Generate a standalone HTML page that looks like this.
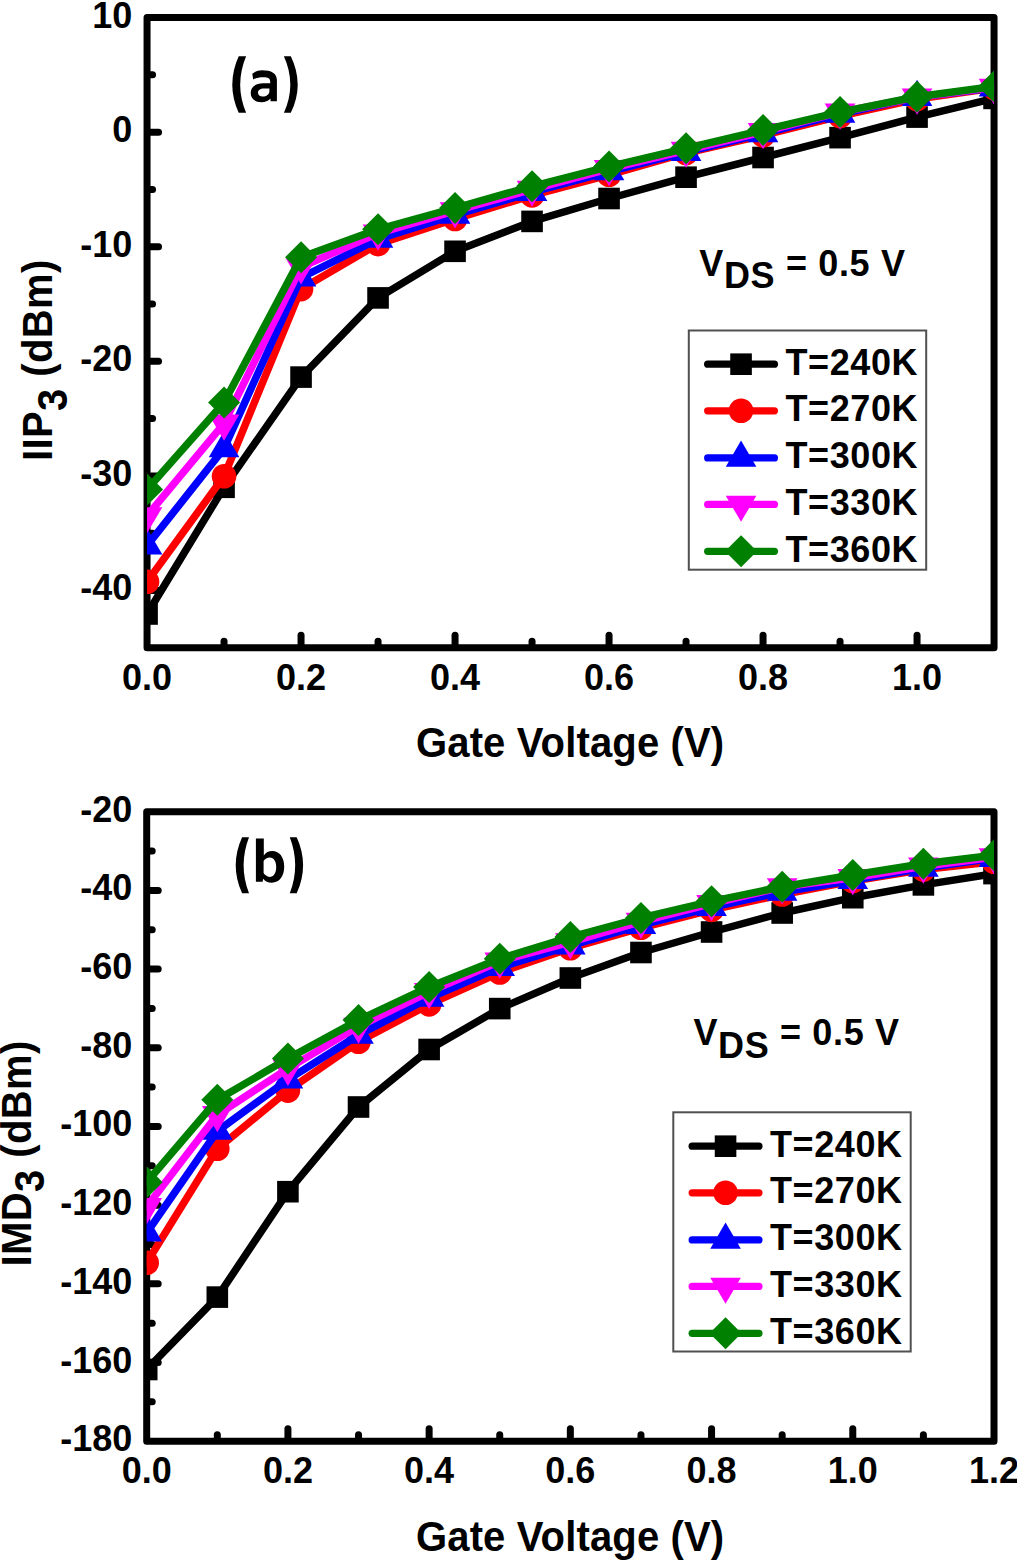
<!DOCTYPE html>
<html><head><meta charset="utf-8"><title>IIP3 and IMD3 vs Gate Voltage</title>
<style>
html,body{margin:0;padding:0;background:#fff;}
body{width:1017px;height:1561px;overflow:hidden;font-family:"Liberation Sans",sans-serif;}
svg{display:block;}
</style></head><body>
<svg width="1017" height="1561" viewBox="0 0 1017 1561">
<defs><clipPath id="ca"><rect x="147.05" y="17.55" width="847" height="630.2"/></clipPath>
<clipPath id="cb"><rect x="146.7" y="811.7" width="847.3" height="629.5"/></clipPath></defs>
<rect width="1017" height="1561" fill="#fff"/>
<rect x="147.05" y="17.55" width="847" height="630.2" fill="none" stroke="#000" stroke-width="7" stroke-linejoin="round"/>
<g stroke="#000" stroke-width="7" stroke-linecap="round">
<line x1="150.55" y1="132.13" x2="158.55" y2="132.13"/>
<line x1="150.55" y1="246.71" x2="158.55" y2="246.71"/>
<line x1="150.55" y1="361.3" x2="158.55" y2="361.3"/>
<line x1="150.55" y1="475.88" x2="158.55" y2="475.88"/>
<line x1="150.55" y1="590.46" x2="158.55" y2="590.46"/>
<line x1="150.55" y1="74.84" x2="152.55" y2="74.84"/>
<line x1="150.55" y1="189.42" x2="152.55" y2="189.42"/>
<line x1="150.55" y1="304" x2="152.55" y2="304"/>
<line x1="150.55" y1="418.59" x2="152.55" y2="418.59"/>
<line x1="150.55" y1="533.17" x2="152.55" y2="533.17"/>
<line x1="301.05" y1="644.25" x2="301.05" y2="635.25"/>
<line x1="455.05" y1="644.25" x2="455.05" y2="635.25"/>
<line x1="609.05" y1="644.25" x2="609.05" y2="635.25"/>
<line x1="763.05" y1="644.25" x2="763.05" y2="635.25"/>
<line x1="917.05" y1="644.25" x2="917.05" y2="635.25"/>
<line x1="224.05" y1="644.25" x2="224.05" y2="641.25"/>
<line x1="378.05" y1="644.25" x2="378.05" y2="641.25"/>
<line x1="532.05" y1="644.25" x2="532.05" y2="641.25"/>
<line x1="686.05" y1="644.25" x2="686.05" y2="641.25"/>
<line x1="840.05" y1="644.25" x2="840.05" y2="641.25"/>
</g>
<g font-family="Liberation Sans, sans-serif" font-weight="bold" font-size="36" fill="#000">
<text x="132.4" y="27.55" text-anchor="end">10</text>
<text x="132.4" y="142.13" text-anchor="end">0</text>
<text x="132.4" y="256.71" text-anchor="end">-10</text>
<text x="132.4" y="371.3" text-anchor="end">-20</text>
<text x="132.4" y="485.88" text-anchor="end">-30</text>
<text x="132.4" y="600.46" text-anchor="end">-40</text>
<text x="147.05" y="690" text-anchor="middle">0.0</text>
<text x="301.05" y="690" text-anchor="middle">0.2</text>
<text x="455.05" y="690" text-anchor="middle">0.4</text>
<text x="609.05" y="690" text-anchor="middle">0.6</text>
<text x="763.05" y="690" text-anchor="middle">0.8</text>
<text x="917.05" y="690" text-anchor="middle">1.0</text>
</g>
<rect x="146.7" y="811.7" width="847.3" height="629.5" fill="none" stroke="#000" stroke-width="7" stroke-linejoin="round"/>
<g stroke="#000" stroke-width="7" stroke-linecap="round">
<line x1="150.2" y1="890.39" x2="158.2" y2="890.39"/>
<line x1="150.2" y1="969.08" x2="158.2" y2="969.08"/>
<line x1="150.2" y1="1047.76" x2="158.2" y2="1047.76"/>
<line x1="150.2" y1="1126.45" x2="158.2" y2="1126.45"/>
<line x1="150.2" y1="1205.14" x2="158.2" y2="1205.14"/>
<line x1="150.2" y1="1283.83" x2="158.2" y2="1283.83"/>
<line x1="150.2" y1="1362.51" x2="158.2" y2="1362.51"/>
<line x1="150.2" y1="851.04" x2="152.2" y2="851.04"/>
<line x1="150.2" y1="929.73" x2="152.2" y2="929.73"/>
<line x1="150.2" y1="1008.42" x2="152.2" y2="1008.42"/>
<line x1="150.2" y1="1087.11" x2="152.2" y2="1087.11"/>
<line x1="150.2" y1="1165.79" x2="152.2" y2="1165.79"/>
<line x1="150.2" y1="1244.48" x2="152.2" y2="1244.48"/>
<line x1="150.2" y1="1323.17" x2="152.2" y2="1323.17"/>
<line x1="150.2" y1="1401.86" x2="152.2" y2="1401.86"/>
<line x1="287.92" y1="1437.7" x2="287.92" y2="1428.7"/>
<line x1="429.13" y1="1437.7" x2="429.13" y2="1428.7"/>
<line x1="570.35" y1="1437.7" x2="570.35" y2="1428.7"/>
<line x1="711.57" y1="1437.7" x2="711.57" y2="1428.7"/>
<line x1="852.78" y1="1437.7" x2="852.78" y2="1428.7"/>
<line x1="217.31" y1="1437.7" x2="217.31" y2="1434.7"/>
<line x1="358.52" y1="1437.7" x2="358.52" y2="1434.7"/>
<line x1="499.74" y1="1437.7" x2="499.74" y2="1434.7"/>
<line x1="640.96" y1="1437.7" x2="640.96" y2="1434.7"/>
<line x1="782.17" y1="1437.7" x2="782.17" y2="1434.7"/>
<line x1="923.39" y1="1437.7" x2="923.39" y2="1434.7"/>
</g>
<g font-family="Liberation Sans, sans-serif" font-weight="bold" font-size="36" fill="#000">
<text x="132.4" y="821.7" text-anchor="end">-20</text>
<text x="132.4" y="900.39" text-anchor="end">-40</text>
<text x="132.4" y="979.08" text-anchor="end">-60</text>
<text x="132.4" y="1057.76" text-anchor="end">-80</text>
<text x="132.4" y="1136.45" text-anchor="end">-100</text>
<text x="132.4" y="1215.14" text-anchor="end">-120</text>
<text x="132.4" y="1293.83" text-anchor="end">-140</text>
<text x="132.4" y="1372.51" text-anchor="end">-160</text>
<text x="132.4" y="1451.2" text-anchor="end">-180</text>
<text x="146.7" y="1483" text-anchor="middle">0.0</text>
<text x="287.92" y="1483" text-anchor="middle">0.2</text>
<text x="429.13" y="1483" text-anchor="middle">0.4</text>
<text x="570.35" y="1483" text-anchor="middle">0.6</text>
<text x="711.57" y="1483" text-anchor="middle">0.8</text>
<text x="852.78" y="1483" text-anchor="middle">1.0</text>
<text x="994" y="1483" text-anchor="middle">1.2</text>
</g>
<g font-family="Liberation Sans, sans-serif" font-weight="bold" font-size="40" fill="#000">
<text transform="translate(416,757) scale(1,1.05)" letter-spacing="0.15">Gate Voltage (V)</text>
<text transform="translate(416,1551) scale(1,1.05)" letter-spacing="0.15">Gate Voltage (V)</text>
<text transform="translate(51.6,461) rotate(-90) scale(1,1.05)" letter-spacing="0.4">IIP<tspan dy="14.8">3</tspan><tspan dy="-14.8"> (dBm)</tspan></text>
<text transform="translate(31.2,1266.5) rotate(-90) scale(1,1.05)" letter-spacing="0.4">IMD<tspan dy="12.4">3</tspan><tspan dy="-12.4"> (dBm)</tspan></text>
</g>
<g fill="#000" fill-rule="evenodd">
<path d="M238.7,56.2 Q225.9,84.5 238.7,112.8 L246.1,112.8 Q234.3,84.5 246.1,56.2 Z"/>
<path d="M283.9,56.2 L290.8,56.2 Q304.6,84.5 290.8,112.8 L283.9,112.8 Q296.7,84.5 283.9,56.2 Z"/>
<path d="M252.3,73.8 C255.5,71.3 258.5,70.3 262,70.3 C271.5,70.3 276.9,73.5 276.9,80 L276.9,101.2 L270.6,101.2 L270.4,98.4 C268.2,100.9 265.3,102.2 261.4,102.2 C255,102.2 250.7,98.5 250.7,93 C250.7,87 255.5,83.3 263,83.3 L270.2,83.3 L270.2,81.5 C270.2,78.5 268,77.2 263.5,77.2 C259.5,77.2 256,78 253.2,79.5 Z M269.4,88.4 L264,88.4 C260.2,88.4 258,90.2 258,92.6 C258,95 259.8,96.6 262.6,96.6 C266.5,96.6 269.4,94.3 269.4,91.5 Z"/>
<path d="M242.1,837.2 Q229.3,865.25 242.1,893.3 L249,893.3 Q238.2,865.25 249,837.2 Z"/>
<path d="M289.8,837.2 L296.7,837.2 Q309.5,865.25 296.7,893.3 L289.8,893.3 Q300.6,865.25 289.8,837.2 Z"/>
<path d="M255.9,838.5 L263.8,838.5 L263.8,855.5 C265.8,852.6 268.6,851.1 272.3,851.1 C279.5,851.1 284.2,857.5 284.2,866.8 C284.2,876.3 279.3,882.7 271.8,882.7 C268,882.7 265,881.3 263.2,878.8 L262.6,881.7 L255.9,881.7 Z M263.6,861 C265,858.8 267.2,857.6 269.8,857.6 C273.9,857.6 276.2,861.5 276.2,867.2 C276.2,872.9 273.6,876.9 269.6,876.9 C267,876.4 264.9,875.2 263.6,873 Z"/>
</g>
<text x="699.3" y="276" font-family="Liberation Sans, sans-serif" font-weight="bold" font-size="36" letter-spacing="0.65">V<tspan dy="12.3">DS</tspan><tspan dy="-12.3"> = 0.5 V</tspan></text>
<text x="693.4" y="1045" font-family="Liberation Sans, sans-serif" font-weight="bold" font-size="36" letter-spacing="0.65">V<tspan dy="12.8">DS</tspan><tspan dy="-12.8"> = 0.5 V</tspan></text>
<rect x="688.8" y="330.5" width="237.4" height="239.2" fill="#fff" stroke="#505050" stroke-width="2"/>
<line x1="707.7" y1="364.2" x2="774.4" y2="364.2" stroke="#000000" stroke-width="7.3" stroke-linecap="round"/>
<rect x="730.25" y="353.4" width="21.6" height="21.6" fill="#000000"/>
<text x="785.5" y="374.7" font-family="Liberation Sans, sans-serif" font-weight="bold" font-size="36" letter-spacing="0.6">T=240K</text>
<line x1="707.7" y1="410.8" x2="774.4" y2="410.8" stroke="#FF0000" stroke-width="7.3" stroke-linecap="round"/>
<circle cx="741.05" cy="410.8" r="12.3" fill="#FF0000"/>
<text x="785.5" y="421.3" font-family="Liberation Sans, sans-serif" font-weight="bold" font-size="36" letter-spacing="0.6">T=270K</text>
<line x1="707.7" y1="457.9" x2="774.4" y2="457.9" stroke="#0000FF" stroke-width="7.3" stroke-linecap="round"/>
<polygon points="741.05,440.43 756.35,466.63 725.75,466.63" fill="#0000FF"/>
<text x="785.5" y="468.4" font-family="Liberation Sans, sans-serif" font-weight="bold" font-size="36" letter-spacing="0.6">T=300K</text>
<line x1="707.7" y1="504.4" x2="774.4" y2="504.4" stroke="#FF00FF" stroke-width="7.3" stroke-linecap="round"/>
<polygon points="741.05,521.87 756.35,495.67 725.75,495.67" fill="#FF00FF"/>
<text x="785.5" y="514.9" font-family="Liberation Sans, sans-serif" font-weight="bold" font-size="36" letter-spacing="0.6">T=330K</text>
<line x1="707.7" y1="551.3" x2="774.4" y2="551.3" stroke="#008000" stroke-width="7.3" stroke-linecap="round"/>
<polygon points="741.05,535.3 757.05,551.3 741.05,567.3 725.05,551.3" fill="#008000"/>
<text x="785.5" y="561.8" font-family="Liberation Sans, sans-serif" font-weight="bold" font-size="36" letter-spacing="0.6">T=360K</text>
<rect x="673.3" y="1112.3" width="237.4" height="239.2" fill="#fff" stroke="#505050" stroke-width="2"/>
<line x1="692.2" y1="1146.2" x2="758.9" y2="1146.2" stroke="#000000" stroke-width="7.3" stroke-linecap="round"/>
<rect x="714.75" y="1135.4" width="21.6" height="21.6" fill="#000000"/>
<text x="770" y="1156.7" font-family="Liberation Sans, sans-serif" font-weight="bold" font-size="36" letter-spacing="0.6">T=240K</text>
<line x1="692.2" y1="1192.8" x2="758.9" y2="1192.8" stroke="#FF0000" stroke-width="7.3" stroke-linecap="round"/>
<circle cx="725.55" cy="1192.8" r="12.3" fill="#FF0000"/>
<text x="770" y="1203.3" font-family="Liberation Sans, sans-serif" font-weight="bold" font-size="36" letter-spacing="0.6">T=270K</text>
<line x1="692.2" y1="1239.9" x2="758.9" y2="1239.9" stroke="#0000FF" stroke-width="7.3" stroke-linecap="round"/>
<polygon points="725.55,1222.43 740.85,1248.63 710.25,1248.63" fill="#0000FF"/>
<text x="770" y="1250.4" font-family="Liberation Sans, sans-serif" font-weight="bold" font-size="36" letter-spacing="0.6">T=300K</text>
<line x1="692.2" y1="1286.4" x2="758.9" y2="1286.4" stroke="#FF00FF" stroke-width="7.3" stroke-linecap="round"/>
<polygon points="725.55,1303.87 740.85,1277.67 710.25,1277.67" fill="#FF00FF"/>
<text x="770" y="1296.9" font-family="Liberation Sans, sans-serif" font-weight="bold" font-size="36" letter-spacing="0.6">T=330K</text>
<line x1="692.2" y1="1333.3" x2="758.9" y2="1333.3" stroke="#008000" stroke-width="7.3" stroke-linecap="round"/>
<polygon points="725.55,1317.3 741.55,1333.3 725.55,1349.3 709.55,1333.3" fill="#008000"/>
<text x="770" y="1343.8" font-family="Liberation Sans, sans-serif" font-weight="bold" font-size="36" letter-spacing="0.6">T=360K</text>
<g clip-path="url(#ca)">
<polyline points="147.05,614 224.05,487.3 301.05,377.1 378.05,297.9 455.05,251.3 532.05,221.4 609.05,198.5 686.05,177.2 763.05,157.5 840.05,137.65 917.05,117.1 994.05,98.4" fill="none" stroke="#000000" stroke-width="7.5" stroke-linejoin="round" stroke-linecap="round"/>
<rect x="136.25" y="603.2" width="21.6" height="21.6" fill="#000000"/>
<rect x="213.25" y="476.5" width="21.6" height="21.6" fill="#000000"/>
<rect x="290.25" y="366.3" width="21.6" height="21.6" fill="#000000"/>
<rect x="367.25" y="287.1" width="21.6" height="21.6" fill="#000000"/>
<rect x="444.25" y="240.5" width="21.6" height="21.6" fill="#000000"/>
<rect x="521.25" y="210.6" width="21.6" height="21.6" fill="#000000"/>
<rect x="598.25" y="187.7" width="21.6" height="21.6" fill="#000000"/>
<rect x="675.25" y="166.4" width="21.6" height="21.6" fill="#000000"/>
<rect x="752.25" y="146.7" width="21.6" height="21.6" fill="#000000"/>
<rect x="829.25" y="126.85" width="21.6" height="21.6" fill="#000000"/>
<rect x="906.25" y="106.3" width="21.6" height="21.6" fill="#000000"/>
<rect x="983.25" y="87.6" width="21.6" height="21.6" fill="#000000"/>
<polyline points="147.05,581.8 224.05,476.25 301.05,289.1 378.05,244.1 455.05,219 532.05,195.4 609.05,174.8 686.05,153 763.05,135.3 840.05,116 917.05,99 994.05,88" fill="none" stroke="#FF0000" stroke-width="7.5" stroke-linejoin="round" stroke-linecap="round"/>
<circle cx="147.05" cy="581.8" r="12.3" fill="#FF0000"/>
<circle cx="224.05" cy="476.25" r="12.3" fill="#FF0000"/>
<circle cx="301.05" cy="289.1" r="12.3" fill="#FF0000"/>
<circle cx="378.05" cy="244.1" r="12.3" fill="#FF0000"/>
<circle cx="455.05" cy="219" r="12.3" fill="#FF0000"/>
<circle cx="532.05" cy="195.4" r="12.3" fill="#FF0000"/>
<circle cx="609.05" cy="174.8" r="12.3" fill="#FF0000"/>
<circle cx="686.05" cy="153" r="12.3" fill="#FF0000"/>
<circle cx="763.05" cy="135.3" r="12.3" fill="#FF0000"/>
<circle cx="840.05" cy="116" r="12.3" fill="#FF0000"/>
<circle cx="917.05" cy="99" r="12.3" fill="#FF0000"/>
<circle cx="994.05" cy="88" r="12.3" fill="#FF0000"/>
<polyline points="147.05,545.7 224.05,448.4 301.05,277.7 378.05,239.1 455.05,215 532.05,192.2 609.05,171.6 686.05,152.2 763.05,133.6 840.05,114 917.05,97.2 994.05,87.7" fill="none" stroke="#0000FF" stroke-width="7.5" stroke-linejoin="round" stroke-linecap="round"/>
<polygon points="147.05,528.23 162.35,554.43 131.75,554.43" fill="#0000FF"/>
<polygon points="224.05,430.93 239.35,457.13 208.75,457.13" fill="#0000FF"/>
<polygon points="301.05,260.23 316.35,286.43 285.75,286.43" fill="#0000FF"/>
<polygon points="378.05,221.63 393.35,247.83 362.75,247.83" fill="#0000FF"/>
<polygon points="455.05,197.53 470.35,223.73 439.75,223.73" fill="#0000FF"/>
<polygon points="532.05,174.73 547.35,200.93 516.75,200.93" fill="#0000FF"/>
<polygon points="609.05,154.13 624.35,180.33 593.75,180.33" fill="#0000FF"/>
<polygon points="686.05,134.73 701.35,160.93 670.75,160.93" fill="#0000FF"/>
<polygon points="763.05,116.13 778.35,142.33 747.75,142.33" fill="#0000FF"/>
<polygon points="840.05,96.53 855.35,122.73 824.75,122.73" fill="#0000FF"/>
<polygon points="917.05,79.73 932.35,105.93 901.75,105.93" fill="#0000FF"/>
<polygon points="994.05,70.23 1009.35,96.43 978.75,96.43" fill="#0000FF"/>
<polyline points="147.05,515.9 224.05,423.3 301.05,267 378.05,233.3 455.05,211 532.05,189.4 609.05,168.8 686.05,150.4 763.05,131.8 840.05,112.2 917.05,97.2 994.05,87.4" fill="none" stroke="#FF00FF" stroke-width="7.5" stroke-linejoin="round" stroke-linecap="round"/>
<polygon points="147.05,533.37 162.35,507.17 131.75,507.17" fill="#FF00FF"/>
<polygon points="224.05,440.77 239.35,414.57 208.75,414.57" fill="#FF00FF"/>
<polygon points="301.05,284.47 316.35,258.27 285.75,258.27" fill="#FF00FF"/>
<polygon points="378.05,250.77 393.35,224.57 362.75,224.57" fill="#FF00FF"/>
<polygon points="455.05,228.47 470.35,202.27 439.75,202.27" fill="#FF00FF"/>
<polygon points="532.05,206.87 547.35,180.67 516.75,180.67" fill="#FF00FF"/>
<polygon points="609.05,186.27 624.35,160.07 593.75,160.07" fill="#FF00FF"/>
<polygon points="686.05,167.87 701.35,141.67 670.75,141.67" fill="#FF00FF"/>
<polygon points="763.05,149.27 778.35,123.07 747.75,123.07" fill="#FF00FF"/>
<polygon points="840.05,129.67 855.35,103.47 824.75,103.47" fill="#FF00FF"/>
<polygon points="917.05,114.67 932.35,88.47 901.75,88.47" fill="#FF00FF"/>
<polygon points="994.05,104.87 1009.35,78.67 978.75,78.67" fill="#FF00FF"/>
<polyline points="147.05,489.5 224.05,402.5 301.05,257.3 378.05,229.35 455.05,208 532.05,186.3 609.05,166.6 686.05,148.3 763.05,130.1 840.05,112.1 917.05,96.7 994.05,86.5" fill="none" stroke="#008000" stroke-width="7.5" stroke-linejoin="round" stroke-linecap="round"/>
<polygon points="147.05,473.5 163.05,489.5 147.05,505.5 131.05,489.5" fill="#008000"/>
<polygon points="224.05,386.5 240.05,402.5 224.05,418.5 208.05,402.5" fill="#008000"/>
<polygon points="301.05,241.3 317.05,257.3 301.05,273.3 285.05,257.3" fill="#008000"/>
<polygon points="378.05,213.35 394.05,229.35 378.05,245.35 362.05,229.35" fill="#008000"/>
<polygon points="455.05,192 471.05,208 455.05,224 439.05,208" fill="#008000"/>
<polygon points="532.05,170.3 548.05,186.3 532.05,202.3 516.05,186.3" fill="#008000"/>
<polygon points="609.05,150.6 625.05,166.6 609.05,182.6 593.05,166.6" fill="#008000"/>
<polygon points="686.05,132.3 702.05,148.3 686.05,164.3 670.05,148.3" fill="#008000"/>
<polygon points="763.05,114.1 779.05,130.1 763.05,146.1 747.05,130.1" fill="#008000"/>
<polygon points="840.05,96.1 856.05,112.1 840.05,128.1 824.05,112.1" fill="#008000"/>
<polygon points="917.05,80.7 933.05,96.7 917.05,112.7 901.05,96.7" fill="#008000"/>
<polygon points="994.05,70.5 1010.05,86.5 994.05,102.5 978.05,86.5" fill="#008000"/>
</g>
<g clip-path="url(#cb)">
<polyline points="146.7,1369.5 217.31,1297.1 287.92,1191.7 358.52,1107 429.13,1049.5 499.74,1008.6 570.35,978 640.96,952.5 711.57,932 782.17,913 852.78,897.7 923.39,884.9 994,873.6" fill="none" stroke="#000000" stroke-width="7.5" stroke-linejoin="round" stroke-linecap="round"/>
<rect x="135.9" y="1358.7" width="21.6" height="21.6" fill="#000000"/>
<rect x="206.51" y="1286.3" width="21.6" height="21.6" fill="#000000"/>
<rect x="277.12" y="1180.9" width="21.6" height="21.6" fill="#000000"/>
<rect x="347.72" y="1096.2" width="21.6" height="21.6" fill="#000000"/>
<rect x="418.33" y="1038.7" width="21.6" height="21.6" fill="#000000"/>
<rect x="488.94" y="997.8" width="21.6" height="21.6" fill="#000000"/>
<rect x="559.55" y="967.2" width="21.6" height="21.6" fill="#000000"/>
<rect x="630.16" y="941.7" width="21.6" height="21.6" fill="#000000"/>
<rect x="700.77" y="921.2" width="21.6" height="21.6" fill="#000000"/>
<rect x="771.38" y="902.2" width="21.6" height="21.6" fill="#000000"/>
<rect x="841.98" y="886.9" width="21.6" height="21.6" fill="#000000"/>
<rect x="912.59" y="874.1" width="21.6" height="21.6" fill="#000000"/>
<rect x="983.2" y="862.8" width="21.6" height="21.6" fill="#000000"/>
<polyline points="146.7,1262.7 217.31,1148.8 287.92,1090.6 358.52,1041.8 429.13,1004.4 499.74,972.5 570.35,948.2 640.96,927.8 711.57,909.9 782.17,894.5 852.78,881 923.39,869.5 994,861.7" fill="none" stroke="#FF0000" stroke-width="7.5" stroke-linejoin="round" stroke-linecap="round"/>
<circle cx="146.7" cy="1262.7" r="12.3" fill="#FF0000"/>
<circle cx="217.31" cy="1148.8" r="12.3" fill="#FF0000"/>
<circle cx="287.92" cy="1090.6" r="12.3" fill="#FF0000"/>
<circle cx="358.52" cy="1041.8" r="12.3" fill="#FF0000"/>
<circle cx="429.13" cy="1004.4" r="12.3" fill="#FF0000"/>
<circle cx="499.74" cy="972.5" r="12.3" fill="#FF0000"/>
<circle cx="570.35" cy="948.2" r="12.3" fill="#FF0000"/>
<circle cx="640.96" cy="927.8" r="12.3" fill="#FF0000"/>
<circle cx="711.57" cy="909.9" r="12.3" fill="#FF0000"/>
<circle cx="782.17" cy="894.5" r="12.3" fill="#FF0000"/>
<circle cx="852.78" cy="881" r="12.3" fill="#FF0000"/>
<circle cx="923.39" cy="869.5" r="12.3" fill="#FF0000"/>
<circle cx="994" cy="861.7" r="12.3" fill="#FF0000"/>
<polyline points="146.7,1232.8 217.31,1131.1 287.92,1079.7 358.52,1035 429.13,998 499.74,967.3 570.35,945.7 640.96,925.2 711.57,907.3 782.17,892 852.78,880.3 923.39,868 994,858.2" fill="none" stroke="#0000FF" stroke-width="7.5" stroke-linejoin="round" stroke-linecap="round"/>
<polygon points="146.7,1215.33 162,1241.53 131.4,1241.53" fill="#0000FF"/>
<polygon points="217.31,1113.63 232.61,1139.83 202.01,1139.83" fill="#0000FF"/>
<polygon points="287.92,1062.23 303.22,1088.43 272.62,1088.43" fill="#0000FF"/>
<polygon points="358.52,1017.53 373.82,1043.73 343.22,1043.73" fill="#0000FF"/>
<polygon points="429.13,980.53 444.43,1006.73 413.83,1006.73" fill="#0000FF"/>
<polygon points="499.74,949.83 515.04,976.03 484.44,976.03" fill="#0000FF"/>
<polygon points="570.35,928.23 585.65,954.43 555.05,954.43" fill="#0000FF"/>
<polygon points="640.96,907.73 656.26,933.93 625.66,933.93" fill="#0000FF"/>
<polygon points="711.57,889.83 726.87,916.03 696.27,916.03" fill="#0000FF"/>
<polygon points="782.17,874.53 797.47,900.73 766.88,900.73" fill="#0000FF"/>
<polygon points="852.78,862.83 868.08,889.03 837.48,889.03" fill="#0000FF"/>
<polygon points="923.39,850.53 938.69,876.73 908.09,876.73" fill="#0000FF"/>
<polygon points="994,840.73 1009.3,866.93 978.7,866.93" fill="#0000FF"/>
<polyline points="146.7,1206.8 217.31,1114.8 287.92,1068.6 358.52,1026.4 429.13,991.8 499.74,961.2 570.35,942.1 640.96,921.6 711.57,903.7 782.17,887.1 852.78,877.7 923.39,866.2 994,857.1" fill="none" stroke="#FF00FF" stroke-width="7.5" stroke-linejoin="round" stroke-linecap="round"/>
<polygon points="146.7,1224.27 162,1198.07 131.4,1198.07" fill="#FF00FF"/>
<polygon points="217.31,1132.27 232.61,1106.07 202.01,1106.07" fill="#FF00FF"/>
<polygon points="287.92,1086.07 303.22,1059.87 272.62,1059.87" fill="#FF00FF"/>
<polygon points="358.52,1043.87 373.82,1017.67 343.22,1017.67" fill="#FF00FF"/>
<polygon points="429.13,1009.27 444.43,983.07 413.83,983.07" fill="#FF00FF"/>
<polygon points="499.74,978.67 515.04,952.47 484.44,952.47" fill="#FF00FF"/>
<polygon points="570.35,959.57 585.65,933.37 555.05,933.37" fill="#FF00FF"/>
<polygon points="640.96,939.07 656.26,912.87 625.66,912.87" fill="#FF00FF"/>
<polygon points="711.57,921.17 726.87,894.97 696.27,894.97" fill="#FF00FF"/>
<polygon points="782.17,904.57 797.47,878.37 766.88,878.37" fill="#FF00FF"/>
<polygon points="852.78,895.17 868.08,868.97 837.48,868.97" fill="#FF00FF"/>
<polygon points="923.39,883.67 938.69,857.47 908.09,857.47" fill="#FF00FF"/>
<polygon points="994,874.57 1009.3,848.37 978.7,848.37" fill="#FF00FF"/>
<polyline points="146.7,1182.3 217.31,1099.8 287.92,1058.6 358.52,1020.1 429.13,986.9 499.74,958.8 570.35,937.1 640.96,918 711.57,901.3 782.17,886.8 852.78,875 923.39,863.7 994,855.3" fill="none" stroke="#008000" stroke-width="7.5" stroke-linejoin="round" stroke-linecap="round"/>
<polygon points="146.7,1166.3 162.7,1182.3 146.7,1198.3 130.7,1182.3" fill="#008000"/>
<polygon points="217.31,1083.8 233.31,1099.8 217.31,1115.8 201.31,1099.8" fill="#008000"/>
<polygon points="287.92,1042.6 303.92,1058.6 287.92,1074.6 271.92,1058.6" fill="#008000"/>
<polygon points="358.52,1004.1 374.52,1020.1 358.52,1036.1 342.52,1020.1" fill="#008000"/>
<polygon points="429.13,970.9 445.13,986.9 429.13,1002.9 413.13,986.9" fill="#008000"/>
<polygon points="499.74,942.8 515.74,958.8 499.74,974.8 483.74,958.8" fill="#008000"/>
<polygon points="570.35,921.1 586.35,937.1 570.35,953.1 554.35,937.1" fill="#008000"/>
<polygon points="640.96,902 656.96,918 640.96,934 624.96,918" fill="#008000"/>
<polygon points="711.57,885.3 727.57,901.3 711.57,917.3 695.57,901.3" fill="#008000"/>
<polygon points="782.17,870.8 798.17,886.8 782.17,902.8 766.17,886.8" fill="#008000"/>
<polygon points="852.78,859 868.78,875 852.78,891 836.78,875" fill="#008000"/>
<polygon points="923.39,847.7 939.39,863.7 923.39,879.7 907.39,863.7" fill="#008000"/>
<polygon points="994,839.3 1010,855.3 994,871.3 978,855.3" fill="#008000"/>
</g>
</svg>
</body></html>
